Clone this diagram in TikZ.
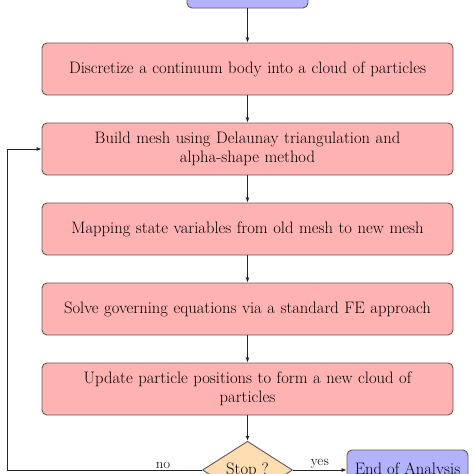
\documentclass[tikz,border=0pt]{standalone}
\usepackage{tikz}
\usetikzlibrary{shapes.geometric,arrows.meta}
\definecolor{pinkfill}{RGB}{255,178,178}
\definecolor{bluefill}{RGB}{178,178,255}
\definecolor{orangefill}{RGB}{255,221,178}
\definecolor{edge}{RGB}{105,85,85}
\tikzset{
  procbox/.style={draw=edge, line width=0.9pt, fill=pinkfill, rounded corners=5pt,
    minimum width=411pt, minimum height=52pt, align=center, inner sep=0pt,
    font=\fontsize{16.6}{19.5}\selectfont, text width=405pt},
  termbox/.style={draw=edge, line width=0.9pt, fill=bluefill, rounded corners=5pt,
    minimum width=121pt, minimum height=40pt, align=center, inner sep=0pt,
    font=\fontsize{16.6}{19.5}\selectfont},
  decide/.style={draw=edge, line width=0.9pt, fill=orangefill, diamond,
    minimum width=90pt, minimum height=46pt, inner sep=0pt,
    font=\fontsize{16.6}{19.5}\selectfont},
  flow/.style={-{Latex[length=5pt,width=4pt]}, line width=0.8pt, black!85},
  lbl/.style={font=\fontsize{14}{16}\selectfont, inner sep=1pt}
}
\begin{document}
\begin{tikzpicture}[x=1pt,y=-1pt]
\useasboundingbox (0,0) rectangle (474,474);
\node[termbox] (start) at (247.5,-12) {};
\node[procbox] (b1) at (247.5,69) {Discretize a continuum body into a cloud of particles};
\node[procbox] (b2) at (247.5,149) {Build mesh using Delaunay triangulation and\\alpha-shape method};
\node[procbox] (b3) at (247.5,229) {Mapping state variables from old mesh to new mesh};
\node[procbox] (b4) at (247.5,309) {Solve governing equations via a standard FE approach};
\node[procbox] (b5) at (247.5,389) {Update particle positions to form a new cloud of\\particles};
\node[decide] (stop) at (247.5,470) {Stop ?};
\node[termbox] (end) at (407.5,470) {End of Analysis};
\coordinate (lb) at (7,470);
\coordinate (lt) at (7,149);
\draw[flow] (start) -- (b1);
\draw[flow] (b1) -- (b2);
\draw[flow] (b2) -- (b3);
\draw[flow] (b3) -- (b4);
\draw[flow] (b4) -- (b5);
\draw[flow] (b5) -- (stop);
\draw[flow] (stop.east) -- node[lbl, above, pos=0.5] {yes} (end.west);
\draw[flow] (stop.west) -- node[lbl, above, pos=0.2] {no} (lb) -- (lt) -- (b2.west);
\end{tikzpicture}
\end{document}
